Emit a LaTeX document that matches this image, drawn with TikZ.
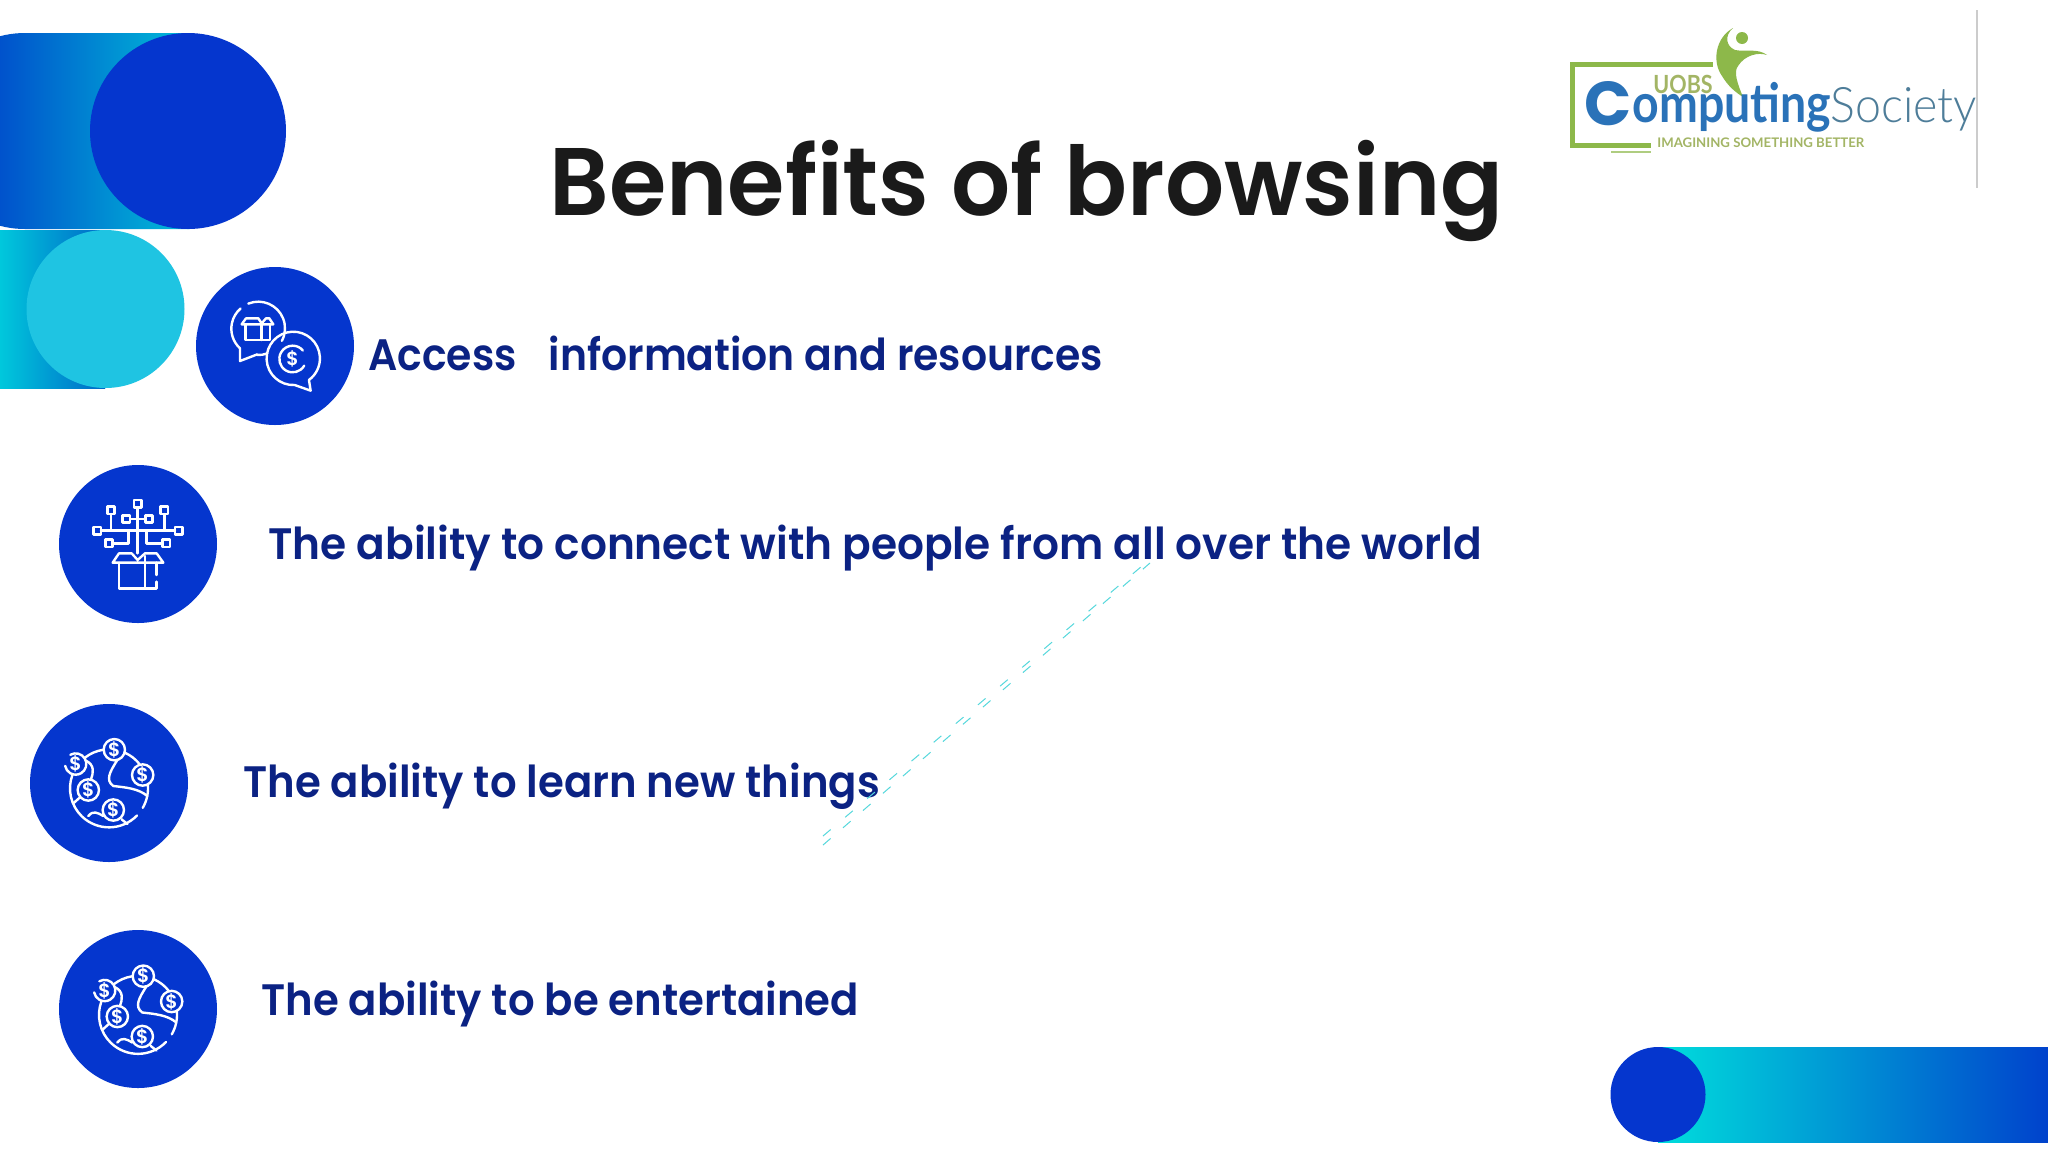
\documentclass[tikz,border=0pt]{standalone}
\usepackage{fontspec}
\setmainfont{Poppins}[BoldFont={Poppins SemiBold}]
\newfontfamily\titlefont{Poppins SemiBold}[FakeStretch=0.967]
\newfontfamily\bodyfont{Poppins SemiBold}[FakeStretch=0.95]
\newfontfamily\bodyfonta{Poppins SemiBold}[FakeStretch=0.93]
\newfontfamily\bodyfontb{Poppins SemiBold}[FakeStretch=0.96]
\newfontfamily\logoa{Poppins}[FakeStretch=1.0]
\newfontfamily\logob{Lato}[FakeStretch=0.86]
\newfontfamily\logoc{Lato Light}[FakeStretch=0.95]
\newfontfamily\logod{Lato}
\definecolor{royal}{HTML}{0536CE}
\definecolor{skyc}{HTML}{1FC4E2}
\definecolor{navy}{HTML}{0B2283}
\definecolor{titlek}{HTML}{1A1A1A}
\definecolor{teal}{HTML}{55D8DC}
\definecolor{lgreen}{HTML}{8DB84A}
\definecolor{lolive}{HTML}{A3B565}
\definecolor{lblue}{HTML}{2A72B8}
\definecolor{lgrey}{HTML}{4E7D99}
\definecolor{gradA}{HTML}{0052CC}
\definecolor{gradB}{HTML}{00BCD8}
\definecolor{gradC}{HTML}{00C8DC}
\definecolor{gradD}{HTML}{0068C8}
\definecolor{gradE}{HTML}{00DEDC}
\definecolor{gradF}{HTML}{0042CC}
\tikzset{
  disc/.style={fill=royal,draw=none},
  icon/.style={draw=white,line width=1.2pt,line cap=round,line join=round},
  bodytext/.style={anchor=base west,inner sep=0pt,text=navy,font=\bodyfont\fontsize{22}{26}\selectfont},
  dollar/.style={inner sep=0pt,text=white,font=\bfseries\fontsize{9.5}{9.5}\selectfont},
  dashline/.style={draw=teal,line width=0.5pt}
}
\newcommand{\coinicon}[3]{\draw[icon] (#1,#2) circle (32);\node[dollar] (#3) at (#1,#2) {\$};}
\newcommand{\globeicon}[2]{%
\begin{scope}[shift={#1},scale=1/3]
\draw[icon] (297,295)+(-66:117) arc[start angle=-66,end angle=-38,radius=117];
\draw[icon] (297,295)+(-6:117) arc[start angle=-6,end angle=30,radius=117];
\draw[icon] (297,295)+(44:117) arc[start angle=44,end angle=200,radius=117];
\draw[icon] (297,295)+(232:117) arc[start angle=232,end angle=262,radius=117];
\coinicon{313}{179}{#2a}
\coinicon{398}{255}{#2b}
\coinicon{235}{300}{#2c}
\coinicon{310}{360}{#2d}
\draw[icon] (197,222)+(-120:32) arc[start angle=-120,end angle=170,radius=32];
\node[dollar] (#2e) at (197,222) {\$};
\draw[icon] (322,210) .. controls (300,245) and (285,270) .. (310,288) .. controls (345,292) and (385,295) .. (412,318);
\draw[icon] (228,212) .. controls (255,225) and (250,250) .. (243,268);
\draw[icon] (210,322) -- (190,340);
\draw[icon] (235,378) .. controls (250,360) and (262,368) .. (280,378);
\draw[icon] (335,388) -- (352,402);
\end{scope}}
\begin{document}
\begin{tikzpicture}[x=0.5pt,y=-0.5pt]
\clip (0,0) rectangle (2048,1152);
\fill[white] (0,0) rectangle (2048,1152);
% top-left shapes
\begin{scope}
\clip (190,33) -- (25,33) arc[start angle=-90,end angle=-270,radius=98] -- (190,229) -- cycle;
\shade[left color=gradA,right color=gradB] (0,33) rectangle (190,229);
\end{scope}
\fill[disc] (188,131) circle (98);
\shade[left color=gradC,right color=gradD] (0,230) rectangle (105,388);
\fill[skyc] (105.5,309) circle (79);
% bottom-right
\shade[left color=gradE,right color=gradF] (1658,1047) rectangle (2048,1142);
\fill[disc] (1658,1094.5) circle (47.5);
% icon discs
\fill[disc] (275,346) circle (79);
\fill[disc] (138,544) circle (79);
\fill[disc] (109,783) circle (79);
\fill[disc] (138,1009) circle (79);
% icon 1
\begin{scope}[shift={(180,255)},scale=1/3]
\draw[icon] (235,220)+(-112:80) arc[start angle=-112,end angle=28,radius=80];
\draw[icon] (232,298) -- (180,318) -- (180,280) arc[start angle=132.5,end angle=229,radius=80];
\draw[icon] (232,300) arc[start angle=92,end angle=70,radius=80];
\draw[icon] (392,407) -- (344,390) arc[start angle=87,end angle=414,radius=80] -- cycle;
\draw[icon] (338,312)+(30:40) arc[start angle=30,end angle=320,radius=40];
\node[dollar] (d1) at (338,312) {\$};
\draw[icon] (185,208) -- (198,190) -- (235,190) -- (245,205) -- (258,190) -- (268,190) -- (280,208) -- cycle;
\draw[icon] (197,208) -- (197,255) -- (270,255) -- (270,208);
\draw[icon] (245,205) -- (245,255);
\end{scope}
% icon 2
\begin{scope}[shift={(40,450)},scale=1/3]
\foreach \p/\q in {293/161,213/181,373/181,259/207,327/207,172/242,416/242,207/280,379/280}
  \draw[icon] (\p-11,\q-11) rectangle (\p+11,\q+11);
\draw[icon] (293,172) -- (293,310);
\draw[icon] (183,242) -- (405,242);
\draw[icon] (213,192) -- (213,242);
\draw[icon] (373,192) -- (373,242);
\draw[icon] (270,207) -- (316,207);
\draw[icon] (218,280) -- (265,280) -- (265,242);
\draw[icon] (368,280) -- (320,280) -- (320,242);
\draw[icon] (218,338) -- (237,310) -- (275,310) -- (293,330) -- (315,310) -- (350,310) -- (370,338) -- cycle;
\draw[icon] (237,338) -- (237,415) -- (350,415) -- (350,395);
\draw[icon] (350,375) -- (350,338);
\draw[icon] (315,318) -- (315,415);
\end{scope}
\globeicon{(10,690)}{g}
\globeicon{(39,916.5)}{h}
% title and texts
\node[anchor=base west,inner sep=0pt,text=titlek,font=\titlefont\fontsize{48}{56}\selectfont] (title) at (549,215) {Benefits of browsing};
\node[bodytext,font=\bodyfonta\fontsize{22}{26}\selectfont] (t1) at (368,370) {Access\hspace{16pt}information and resources};
\node[bodytext,font=\bodyfontb\fontsize{22}{26}\selectfont] (t2) at (268,559) {The ability to connect with people from all over the world};
\node[bodytext] (t3) at (243,797) {The ability to learn new things};
\node[bodytext] (t4) at (261,1015) {The ability to be entertained};
% dashed streaks
\coordinate (a0) at (823,836);
\coordinate (a1) at (1142,566);
\coordinate (b0) at (823,845);
\coordinate (b1) at (1150,563);
\draw[dashline,dash pattern=on 5pt off 9.5pt] (a0) -- (a1);
\draw[dashline,dash pattern=on 5pt off 8.2pt] (b0) -- (b1);
% logo
\draw[draw=lgreen,line width=2.5pt] (1713,64) -- (1572,64) -- (1572,145) -- (1651,145);
\draw[draw=lgreen!70!white,line width=1.2pt] (1611,152) -- (1651,152);
\node[anchor=base west,inner sep=0pt,text=lolive,font=\logob\bfseries\fontsize{12.5}{13}\selectfont] (uobs) at (1653,93) {UOBS};
\fill[lgreen] (1733,28) .. controls (1715,38) and (1712,62) .. (1722,76) .. controls (1728,86) and (1735,92) .. (1743,97) .. controls (1738,85) and (1733,72) .. (1738,66) .. controls (1745,55) and (1758,52) .. (1767,55) .. controls (1758,48) and (1745,52) .. (1735,50) .. controls (1726,46) and (1724,36) .. (1733,28) -- cycle;
\fill[lgreen] (1742,38) circle (6);
\node[anchor=base west,inner sep=0pt,text=lblue,font=\logoa\bfseries\fontsize{31}{31}\selectfont] (logoC) at (1584,125) {C};
\node[anchor=base west,inner sep=0pt,text=lblue,font=\logob\bfseries\fontsize{27}{28}\selectfont] (logoB) at (1632,122) {omputing};
\begin{scope}
\clip (1700,60) rectangle (1977,150);
\node[anchor=base west,inner sep=0pt,text=lgrey,font=\logoc\fontsize{24.5}{26}\selectfont] (logoS) at (1830,122) {Society};
\end{scope}
\node[anchor=base west,inner sep=0pt,text=lolive,font=\logod\bfseries\fontsize{6.6}{7}\selectfont] (logoT) at (1657,147) {IMAGINING SOMETHING BETTER};
\coordinate (v0) at (1977,10);
\coordinate (v1) at (1977,188);
\draw[draw=black!20,line width=0.6pt] (v0) -- (v1);
\end{tikzpicture}
\end{document}
